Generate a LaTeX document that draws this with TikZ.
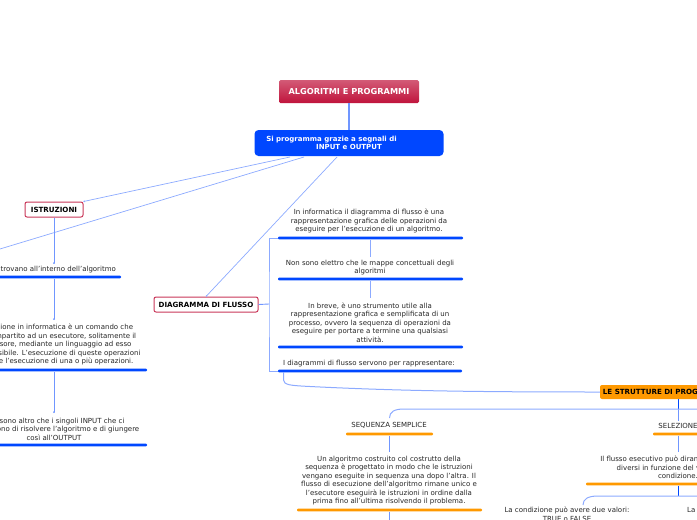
\documentclass[tikz,border=0pt]{standalone}
\usepackage{fontspec}
\setmainfont{DejaVu Sans}
\usetikzlibrary{arrows.meta}
\definecolor{mapblue}{RGB}{0, 71, 255}
\definecolor{linkblue}{RGB}{140, 170, 255}
\definecolor{maporange}{RGB}{255, 153, 0}
\definecolor{mapred}{RGB}{192, 20, 60}
\tikzset{
    txt/.style={align=center, font=\fontsize{7}{8.5}\selectfont, text=black!85, inner sep=2pt},
    bluebar/.style={fill=mapblue, inner sep=0pt, minimum height=2.6pt, rounded corners=1pt},
    orangebar/.style={fill=maporange, inner sep=0pt, minimum height=2.6pt, rounded corners=1pt},
    redbox/.style={draw=mapred!85, fill=white, line width=1pt, rounded corners=2pt, inner sep=0pt,
        font=\fontsize{7.1}{8.5}\selectfont\bfseries, text=black},
    link/.style={draw=linkblue, line width=0.7pt},
    stem/.style={draw=linkblue!80!mapblue, line width=0.9pt},
    dot/.style={-{Circle[length=1.6pt]}}
}

\begin{document}
\begin{tikzpicture}[x=1pt, y=-1pt]
    \path[use as bounding box, clip] (0,0) rectangle (697,520);

    % Main boxes
    \node[top color=mapred!70!white, bottom color=mapred, rounded corners=1.5pt, minimum width=140pt, minimum height=23pt,
        inner sep=0pt, text=white, font=\fontsize{8.2}{9}\selectfont\bfseries] (root) at (349,91.5) {ALGORITMI E PROGRAMMI};
    \node[fill=mapblue, rounded corners=4pt, minimum width=189pt, minimum height=26pt, inner sep=0pt, align=center,
        text=white, font=\fontsize{7}{8.5}\selectfont\bfseries] (signals) at (349,143) {Si programma grazie a segnali di\hspace*{35pt}\\INPUT e OUTPUT};
    \node[redbox, minimum width=58pt, minimum height=15pt] (instr) at (54,209.5) {ISTRUZIONI};
    \node[redbox, minimum width=104pt, minimum height=15pt] (flow) at (206,304.5) {DIAGRAMMA DI FLUSSO};
    \node[fill=maporange, rounded corners=2pt, minimum width=156pt, minimum height=14pt, inner sep=0pt,
        text=black, font=\fontsize{7.1}{8.5}\selectfont\bfseries] (structs) at (678,392) {LE STRUTTURE DI PROGRAMMAZIONE};

    % Left column
    \node[txt] (l1) at (54,269.5) {Si trovano all'interno dell'algoritmo};
    \node[bluebar, minimum width=134pt] (l1bar) at (54,277) {};
    \node[txt] (l2) at (54,344.5) {L'istruzione in informatica è un comando che\\viene impartito ad un esecutore, solitamente il\\processore, mediante un linguaggio ad esso\\comprensibile. L'esecuzione di queste operazioni\\prevede l'esecuzione di una o più operazioni.};
    \node[bluebar, minimum width=186pt] (l2bar) at (54,370) {};
    \node[txt] (l3) at (54,429) {Non sono altro che i singoli INPUT che ci\\permettono di risolvere l'algoritmo e di giungere\\così all'OUTPUT};
    \node[bluebar, minimum width=186pt] (l3bar) at (54,445) {};

    % Flow chart column
    \node[txt] (r1) at (369,221) {In informatica il diagramma di flusso è una\\rappresentazione grafica delle operazioni da\\eseguire per l'esecuzione di un algoritmo.};
    \node[bluebar, minimum width=185pt] (r1bar) at (370.5,238) {};
    \node[txt] (r2) at (370,267.5) {Non sono elettro che le mappe concettuali degli\\algoritmi};
    \node[bluebar, minimum width=185pt] (r2bar) at (370.5,279) {};
    \node[txt] (r3) at (370,322.5) {In breve, è uno strumento utile alla\\rappresentazione grafica e semplificata di un\\processo, ovvero la sequenza di operazioni da\\eseguire per portare a termine una qualsiasi\\attività.};
    \node[bluebar, minimum width=185pt] (r3bar) at (370.5,347) {};
    \node[txt] (r4) at (369,363.5) {I diagrammi di flusso servono per rappresentare:};
    \node[bluebar, minimum width=184pt] (r4bar) at (370,371) {};

    % Structures
    \node[txt] (seq) at (389,425.5) {SEQUENZA SEMPLICE};
    \node[orangebar, minimum width=87pt] (seqbar) at (389.5,434) {};
    \node[txt] (seqtext) at (389,480.5) {Un algoritmo costruito col costrutto della\\sequenza è progettato in modo che le istruzioni\\vengano eseguite in sequenza una dopo l'altra. Il\\flusso di esecuzione dell'algoritmo rimane unico e\\l'esecutore eseguirà le istruzioni in ordine dalla\\prima fino all'ultima risolvendo il problema.};
    \node[orangebar, minimum width=185pt] (seqtextbar) at (389.5,510) {};
    \node[txt] (sel) at (678,425.5) {SELEZIONE};
    \node[orangebar, minimum width=50pt] (selbar) at (678,434) {};
    \node[txt] (seltext) at (678,467.5) {Il flusso esecutivo può diramarsi in due rami\\diversi in funzione del verso di una\\condizione.};
    \node[orangebar, minimum width=184pt] (seltextbar) at (678,484) {};
    \node[txt] (cond) at (567,514) {La condizione può avere due valori:\\TRUE o FALSE};
    \node[txt, anchor=west] (cond2) at (685,509.5) {La condizione};

    % Free ends
    \coordinate (offleft) at (-10,252);
    \coordinate (offright) at (710,409);
    \coordinate (offcorner) at (710,496);
    \coordinate (fork) at (269,304);
    \coordinate (bendstart) at (283.5,372);
    \coordinate (seqend) at (389.5,530);

    % Connectors
    \draw[stem, line width=1.6pt] (root) -- (signals);
    \draw[link, dot] (290,157) -- (instr.north east);
    \draw[link] (304,157) -- (offleft);
    \draw[link, dot] (337,157) -- (flow.north);
    \draw[stem, dot] (instr) -- (l1.north);
    \draw[stem, dot] (l1bar) -- (54,320);
    \draw[stem, dot] (l2bar) -- (54,413);

    \draw[stem] (flow.east) -- (fork);
    \draw[link, line width=1pt] (r1bar.west) -| (fork) |- (r4bar.west);
    \draw[link] (r1bar) -- (370.5,257);
    \draw[link] (r2bar) -- (370.5,298);
    \draw[link, line width=1pt] (bendstart) -- (283.5,380) .. controls (284,385) and (290,385.5) .. (310,386.5)
        .. controls (400,391) and (480,392) .. (structs.west);

    \draw[stem, mapblue] (structs) -- (678,409);
    \draw[stem] (678,409) -- (sel.north);
    \draw[link, line width=1pt] (offright) -- (404,409) .. controls (394,409) and (389.5,412) .. (389.5,418);
    \draw[stem, line width=1.2pt] (seqbar) -- (389.5,452);
    \draw[stem, line width=1.2pt] (seqtextbar) -- (seqend);
    \draw[stem] (selbar) -- (678,452);
    \draw[stem, mapblue] (seltextbar) -- (678,496);
    \draw[link, line width=1pt] (offcorner) -- (598,496) .. controls (588,496) and (583,499) .. (583,505);
\end{tikzpicture}
\end{document}
